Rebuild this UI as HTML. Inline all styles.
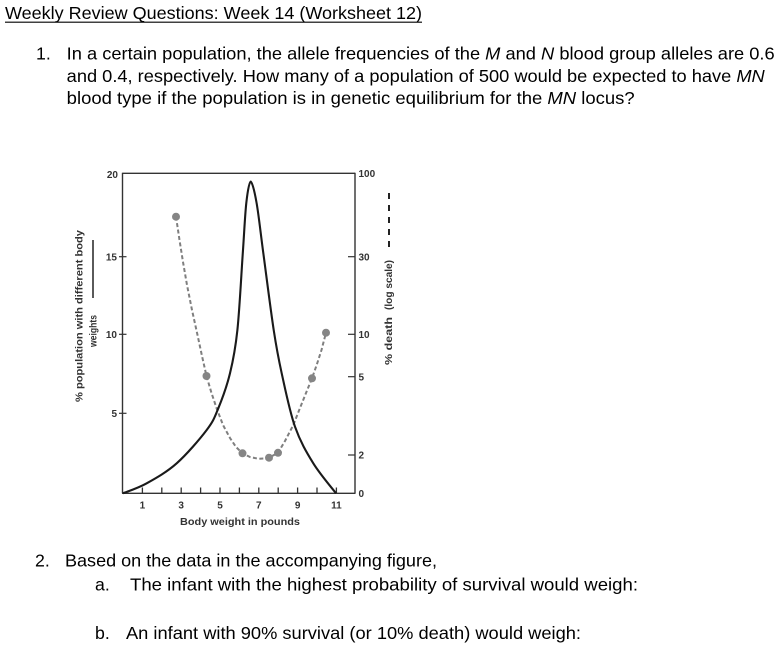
<!DOCTYPE html>
<html>
<head>
<meta charset="utf-8">
<style>
  html, body { margin:0; padding:0; background:#fff; }
  svg { display:block; }
  .body { font-family: "Liberation Sans", Arial, sans-serif; font-size:17.7px; fill:#000; }
  .ch { font-family: "Liberation Sans", Arial, sans-serif; font-size:10px; font-weight:bold; fill:#333; }
  .lab { font-family: "Liberation Sans", Arial, sans-serif; font-size:10.5px; font-weight:bold; fill:#333; }
</style>
</head>
<body>
<svg width="782" height="647" viewBox="0 0 782 647" xmlns="http://www.w3.org/2000/svg">
  <rect x="0" y="0" width="782" height="647" fill="#fff"/>

  <!-- Title -->
  <text class="body" x="5" y="19" textLength="417" lengthAdjust="spacingAndGlyphs">Weekly Review Questions: Week 14 (Worksheet 12)</text>
  <line x1="5" y1="22.2" x2="422" y2="22.2" stroke="#000" stroke-width="1.2"/>

  <!-- Question 1 -->
  <text class="body" x="36" y="59.3">1.</text>
  <text class="body" x="66.7" y="59.3" textLength="708" lengthAdjust="spacingAndGlyphs">In a certain population, the allele frequencies of the <tspan font-style="italic">M</tspan> and <tspan font-style="italic">N</tspan> blood group alleles are 0.6</text>
  <text class="body" x="66.7" y="81.8" textLength="698" lengthAdjust="spacingAndGlyphs">and 0.4, respectively. How many of a population of 500 would be expected to have <tspan font-style="italic">MN</tspan></text>
  <text class="body" x="66.7" y="104.2" textLength="568" lengthAdjust="spacingAndGlyphs">blood type if the population is in genetic equilibrium for the <tspan font-style="italic">MN</tspan> locus?</text>

  <!-- Chart frame -->
  <g stroke="#333" stroke-width="1.4" fill="none">
    <line x1="122.5" y1="173.3" x2="355" y2="173.3"/>
    <line x1="122.5" y1="172.7" x2="122.5" y2="493.3"/>
    <line x1="355" y1="172.7" x2="355" y2="493.3"/>
    <line x1="122" y1="493.3" x2="355.5" y2="493.3"/>
  </g>

  <!-- X ticks -->
  <g stroke="#333" stroke-width="1.3">
    <line x1="142.4" y1="493" x2="142.4" y2="487.5"/>
    <line x1="161.8" y1="493" x2="161.8" y2="487.5"/>
    <line x1="181.2" y1="493" x2="181.2" y2="487.5"/>
    <line x1="200.6" y1="493" x2="200.6" y2="487.5"/>
    <line x1="220" y1="493" x2="220" y2="487.5"/>
    <line x1="239.4" y1="493" x2="239.4" y2="487.5"/>
    <line x1="258.8" y1="493" x2="258.8" y2="487.5"/>
    <line x1="278.2" y1="493" x2="278.2" y2="487.5"/>
    <line x1="297.6" y1="493" x2="297.6" y2="487.5"/>
    <line x1="317" y1="493" x2="317" y2="487.5"/>
    <line x1="336.4" y1="493" x2="336.4" y2="487.5"/>
  </g>
  <g class="ch" text-anchor="middle">
    <text x="142.4" y="508.5">1</text>
    <text x="181.2" y="508.5">3</text>
    <text x="220" y="508.5">5</text>
    <text x="258.8" y="508.5">7</text>
    <text x="297.6" y="508.5">9</text>
    <text x="336.4" y="508.5">11</text>
  </g>
  <text class="lab" x="180" y="525" textLength="120" lengthAdjust="spacingAndGlyphs">Body weight in pounds</text>

  <!-- Left ticks -->
  <g stroke="#333" stroke-width="1.2">
    <line x1="119" y1="256.7" x2="126.5" y2="256.7"/>
    <line x1="119" y1="334.3" x2="126.5" y2="334.3"/>
    <line x1="119" y1="413.3" x2="126.5" y2="413.3"/>
  </g>
  <g class="ch" text-anchor="end">
    <text x="118" y="177.8">20</text>
    <text x="117" y="260.4">15</text>
    <text x="117" y="338">10</text>
    <text x="117" y="417">5</text>
  </g>

  <!-- Right ticks -->
  <g stroke="#333" stroke-width="1.2">
    <line x1="348" y1="256.7" x2="355" y2="256.7"/>
    <line x1="348" y1="334.3" x2="355" y2="334.3"/>
    <line x1="348" y1="376.7" x2="355" y2="376.7"/>
    <line x1="348" y1="455" x2="355" y2="455"/>
  </g>
  <g class="ch" text-anchor="start">
    <text x="358.5" y="177">100</text>
    <text x="358.5" y="260.4">30</text>
    <text x="358.5" y="338">10</text>
    <text x="358.5" y="380.4">5</text>
    <text x="358.5" y="458.7">2</text>
    <text x="358.5" y="497">0</text>
  </g>

  <!-- Left axis label -->
  <text class="lab" transform="translate(82.5,316) rotate(-90)" text-anchor="middle" textLength="172" lengthAdjust="spacingAndGlyphs">% population with different body</text>
  <text class="lab" transform="translate(96.5,331) rotate(-90)" text-anchor="middle" textLength="32" lengthAdjust="spacingAndGlyphs">weights</text>
  <line x1="93" y1="240" x2="93" y2="298" stroke="#222" stroke-width="1.5"/>

  <!-- Right axis label -->
  <text class="lab" transform="translate(392,341) rotate(-90)" text-anchor="middle" textLength="48" lengthAdjust="spacingAndGlyphs">% death</text>
  <text class="lab" transform="translate(392,285) rotate(-90)" text-anchor="middle" textLength="50" lengthAdjust="spacingAndGlyphs">(log scale)</text>
  <line x1="389" y1="193" x2="389" y2="253" stroke="#222" stroke-width="2" stroke-dasharray="6,6"/>

  <!-- Dashed death curve -->
  <polyline fill="none" stroke="#7f7f7f" stroke-width="2" stroke-dasharray="4,2.5" stroke-linejoin="round"
    points="176,216.7 179.5,240 183,262 187,285 192,310 197.5,335 202,356 206.5,376 211.5,393 216.7,408.5 223,425 230,438 236,447 242.5,453.3 250,457 258.5,458.8 264,458.5 269,457.7 278,452.8 285,441 293.3,425 300,408 306,393 312,378.3 317,364 321.5,350 326,332.7"/>
  <g fill="#858585">
    <circle cx="176" cy="216.7" r="4"/>
    <circle cx="206.5" cy="376" r="4"/>
    <circle cx="242.5" cy="453.3" r="4"/>
    <circle cx="269" cy="457.7" r="4"/>
    <circle cx="278" cy="452.8" r="4"/>
    <circle cx="312" cy="378.3" r="4"/>
    <circle cx="326" cy="332.7" r="4"/>
  </g>

  <!-- Solid population curve -->
  <path fill="none" stroke="#1a1a1a" stroke-width="2.1" stroke-linejoin="round"
    d="M123,493.3
       C126.95,491.63 137.75,488.3 146.7,483.3
       C155.65,478.3 166.7,472.18 176.7,463.3
       C186.7,454.42 199.77,439.17 206.7,430
       C213.63,420.83 214.42,417.75 218.3,408.3
       C222.18,398.85 226.82,386.35 230,373.3
       C233.18,360.25 235.27,350.05 237.4,330
       C239.53,309.95 241.32,274.17 242.8,253
       C244.28,231.83 244.98,214.92 246.3,203
       C247.62,191.08 249.3,181.5 250.7,181.5
       C252.1,181.5 254.5,191.08 256.6,203
       C258.7,214.92 260.45,231.83 263.3,253
       C266.15,274.17 270.63,309.95 273.7,330
       C276.77,350.05 278.15,357.18 281.7,373.3
       C285.25,389.42 289.73,411.7 295,426.7
       C300.27,441.7 306.47,452.2 313.3,463.3
       C320.13,474.4 332.22,488.3 336,493.3"/>

  <!-- Question 2 -->
  <text class="body" x="35" y="566.5">2.</text>
  <text class="body" x="65" y="566.5" textLength="372" lengthAdjust="spacingAndGlyphs">Based on the data in the accompanying figure,</text>
  <text class="body" x="95" y="590.5">a.</text>
  <text class="body" x="130" y="590.5" textLength="508" lengthAdjust="spacingAndGlyphs">The infant with the highest probability of survival would weigh:</text>
  <text class="body" x="95" y="639">b.</text>
  <text class="body" x="126" y="639" textLength="455" lengthAdjust="spacingAndGlyphs">An infant with 90% survival (or 10% death) would weigh:</text>
</svg>
</body>
</html>
